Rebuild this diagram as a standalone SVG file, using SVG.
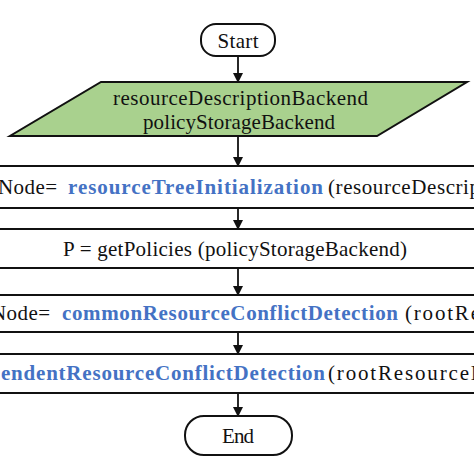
<svg xmlns="http://www.w3.org/2000/svg" width="474" height="474" viewBox="0 0 474 474">
<style>
.t{font-family:"Liberation Serif","Times New Roman",serif;font-size:21px;fill:#111}
.b{font-family:"Liberation Serif","Times New Roman",serif;font-size:21px;font-weight:bold;fill:#4472c4}
.s{fill:#fff;stroke:#111;stroke-width:2}
.c{stroke:#111;stroke-width:1.8;fill:none}
</style>
<defs>
<marker id="ah" markerWidth="10" markerHeight="10" refX="9" refY="5" orient="auto" markerUnits="userSpaceOnUse">
<path d="M0,0 L10,5 L0,10 Z" fill="#111"/>
</marker>
</defs>
<rect width="474" height="474" fill="#fff"/>
<g id="connectors">
<line class="c" x1="238" y1="56" x2="238" y2="82" marker-end="url(#ah)"/>
<line class="c" x1="238" y1="136" x2="238" y2="166" marker-end="url(#ah)"/>
<line class="c" x1="238" y1="208" x2="238" y2="229" marker-end="url(#ah)"/>
<line class="c" x1="238" y1="268" x2="238" y2="295" marker-end="url(#ah)"/>
<line class="c" x1="238" y1="332" x2="238" y2="354" marker-end="url(#ah)"/>
<line class="c" x1="238" y1="393" x2="238" y2="416" marker-end="url(#ah)"/>
</g>
<g id="start">
<rect class="s" x="201" y="24" width="74" height="32" rx="15"/>
<text class="t" x="238" y="48" text-anchor="middle" textLength="41">Start</text>
</g>
<g id="input">
<polygon points="101,82 467,82 377,136 10,136" fill="#a9d18e" stroke="#111" stroke-width="2"/>
<text class="t" x="113" y="105" textLength="255">resourceDescriptionBackend</text>
<text class="t" x="143" y="129" textLength="192">policyStorageBackend</text>
</g>
<g id="step1">
<rect class="s" x="-5" y="166" width="484" height="42"/>
<text class="t" x="-2" y="194" textLength="59">Node=</text>
<text class="b" x="68" y="194" textLength="255">resourceTreeInitialization</text>
<text class="t" x="328" y="194" textLength="152">(resourceDescrip</text>
</g>
<g id="step2">
<rect class="s" x="-5" y="229" width="484" height="39"/>
<text class="t" x="63" y="256" textLength="344">P = getPolicies (policyStorageBackend)</text>
</g>
<g id="step3">
<rect class="s" x="-5" y="295" width="484" height="37"/>
<text class="t" x="-9" y="320" textLength="59">Node=</text>
<text class="b" x="62" y="320" textLength="336">commonResourceConflictDetection</text>
<text class="t" x="405" y="320" textLength="75">(rootRe</text>
</g>
<g id="step4">
<rect class="s" x="-5" y="354" width="484" height="39"/>
<text class="b" x="1" y="380" textLength="324">endentResourceConflictDetection</text>
<text class="t" x="328" y="380" textLength="158">(rootResourceN</text>
</g>
<g id="end">
<rect class="s" x="185" y="416" width="107" height="39" rx="19"/>
<text class="t" x="238" y="443" text-anchor="middle" textLength="32">End</text>
</g>
</svg>
